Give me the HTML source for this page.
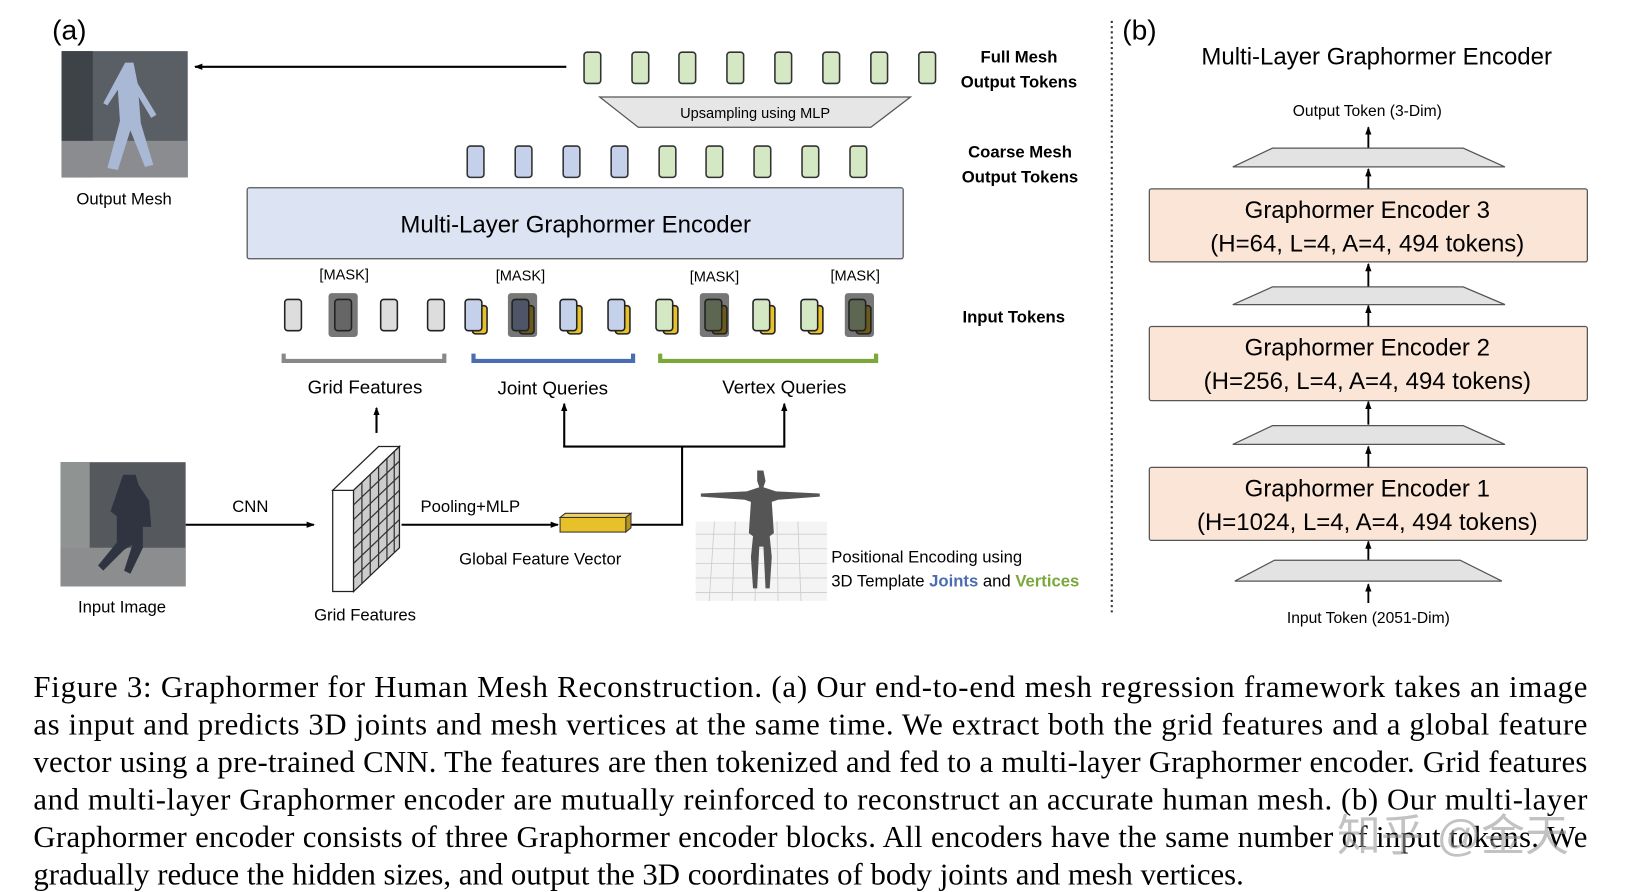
<!DOCTYPE html>
<html><head><meta charset="utf-8"><style>html,body{margin:0;padding:0;background:#fff}svg{display:block}</style></head>
<body>
<svg width="1627" height="892" viewBox="0 0 1560 855" preserveAspectRatio="none" xmlns="http://www.w3.org/2000/svg" font-family="Liberation Sans, sans-serif">
<defs>
<marker id="ah" markerWidth="8" markerHeight="8" refX="7" refY="4" orient="auto" markerUnits="userSpaceOnUse"><path d="M0,1 L8,4 L0,7 z" fill="#000"/></marker>
</defs>
<rect width="1560" height="855" fill="#fff"/>
<text x="50" y="38" font-size="27">(a)</text>
<rect x="59" y="49" width="121" height="121" fill="#5a5f66"/>
<rect x="59" y="49" width="30" height="121" fill="#3e4348"/>
<rect x="59" y="135" width="121" height="35" fill="#8a8c90"/>
<path d="M120,60 l8,0 l4,20 l18,30 l-5,3 l-12,-20 l2,25 l12,40 l-8,2 l-14,-35 l-12,38 l-10,-2 l12,-45 l-2,-30 l-10,15 l-4,-2 z" fill="#a9b8d4"/>
<text x="119" y="196" font-size="16" text-anchor="middle">Output Mesh</text>
<line x1="543" y1="64" x2="187" y2="64" stroke="#000" stroke-width="2" marker-end="url(#ah)"/>
<g stroke="#333" stroke-width="1.5" fill="#d5e8c4">
<rect x="560" y="50" width="16" height="30" rx="3"/><rect x="606" y="50" width="16" height="30" rx="3"/><rect x="651" y="50" width="16" height="30" rx="3"/><rect x="697" y="50" width="16" height="30" rx="3"/><rect x="743" y="50" width="16" height="30" rx="3"/><rect x="789" y="50" width="16" height="30" rx="3"/><rect x="835" y="50" width="16" height="30" rx="3"/><rect x="881" y="50" width="16" height="30" rx="3"/>
</g>
<path d="M575,93 L873,93 L835,122 L612,122 Z" fill="#e6e6e6" stroke="#555" stroke-width="1.2"/>
<text x="724" y="113" font-size="14" text-anchor="middle">Upsampling using MLP</text>
<text x="977" y="60" font-size="16" font-weight="bold" text-anchor="middle">Full Mesh</text>
<text x="977" y="84" font-size="16" font-weight="bold" text-anchor="middle">Output Tokens</text>
<g stroke="#333" stroke-width="1.5">
<rect x="448" y="140" width="16" height="30" rx="3" fill="#c5d0ea"/><rect x="494" y="140" width="16" height="30" rx="3" fill="#c5d0ea"/><rect x="540" y="140" width="16" height="30" rx="3" fill="#c5d0ea"/><rect x="586" y="140" width="16" height="30" rx="3" fill="#c5d0ea"/>
<rect x="632" y="140" width="16" height="30" rx="3" fill="#d5e8c4"/><rect x="677" y="140" width="16" height="30" rx="3" fill="#d5e8c4"/><rect x="723" y="140" width="16" height="30" rx="3" fill="#d5e8c4"/><rect x="769" y="140" width="16" height="30" rx="3" fill="#d5e8c4"/><rect x="815" y="140" width="16" height="30" rx="3" fill="#d5e8c4"/>
</g>
<text x="978" y="151" font-size="16" font-weight="bold" text-anchor="middle">Coarse Mesh</text>
<text x="978" y="175" font-size="16" font-weight="bold" text-anchor="middle">Output Tokens</text>
<rect x="237" y="180" width="629" height="68" fill="#dce3f3" stroke="#555" stroke-width="1.2" rx="2"/>
<text x="552" y="223" font-size="23" text-anchor="middle">Multi-Layer Graphormer Encoder</text>
<g font-size="14" text-anchor="middle"><text x="330" y="268">[MASK]</text><text x="499" y="269">[MASK]</text><text x="685" y="270">[MASK]</text><text x="820" y="269">[MASK]</text></g>
<g stroke="#222" stroke-width="1.5">
<rect x="315" y="281" width="28" height="42" rx="3" fill="#777" stroke="none"/>
<rect x="487" y="281" width="28" height="42" rx="3" fill="#777" stroke="none"/>
<rect x="671" y="281" width="28" height="42" rx="3" fill="#777" stroke="none"/>
<rect x="810" y="281" width="28" height="42" rx="3" fill="#777" stroke="none"/>
<rect x="273" y="287" width="16" height="30" rx="3" fill="#ddd"/>
<rect x="321" y="287" width="16" height="30" rx="3" fill="#666"/>
<rect x="365" y="287" width="16" height="30" rx="3" fill="#ddd"/>
<rect x="410" y="287" width="16" height="30" rx="3" fill="#ddd"/>
<rect x="453" y="293" width="14" height="27" rx="3" fill="#e8c02a"/><rect x="446" y="287" width="16" height="30" rx="3" fill="#c5d0ea"/>
<rect x="498" y="293" width="14" height="27" rx="3" fill="#6b5a1a"/><rect x="491" y="287" width="16" height="30" rx="3" fill="#4d5566"/>
<rect x="544" y="293" width="14" height="27" rx="3" fill="#e8c02a"/><rect x="537" y="287" width="16" height="30" rx="3" fill="#c5d0ea"/>
<rect x="590" y="293" width="14" height="27" rx="3" fill="#e8c02a"/><rect x="583" y="287" width="16" height="30" rx="3" fill="#c5d0ea"/>
<rect x="636" y="293" width="14" height="27" rx="3" fill="#e8c02a"/><rect x="629" y="287" width="16" height="30" rx="3" fill="#d5e8c4"/>
<rect x="683" y="293" width="14" height="27" rx="3" fill="#6b5a1a"/><rect x="676" y="287" width="16" height="30" rx="3" fill="#5c6650"/>
<rect x="729" y="293" width="14" height="27" rx="3" fill="#e8c02a"/><rect x="722" y="287" width="16" height="30" rx="3" fill="#d5e8c4"/>
<rect x="775" y="293" width="14" height="27" rx="3" fill="#e8c02a"/><rect x="768" y="287" width="16" height="30" rx="3" fill="#d5e8c4"/>
<rect x="821" y="293" width="14" height="27" rx="3" fill="#6b5a1a"/><rect x="814" y="287" width="16" height="30" rx="3" fill="#5c6650"/>
</g>
<text x="972" y="309" font-size="16" font-weight="bold" text-anchor="middle">Input Tokens</text>
<g fill="none" stroke-width="4">
<path d="M272,339 L272,346 L426,346 L426,339" stroke="#888"/>
<path d="M454,339 L454,346 L607,346 L607,339" stroke="#4a6cb3"/>
<path d="M633,339 L633,346 L840,346 L840,339" stroke="#7aa83a"/>
</g>
<g font-size="18" text-anchor="middle"><text x="350" y="377">Grid Features</text><text x="530" y="378">Joint Queries</text><text x="752" y="377">Vertex Queries</text></g>
<g stroke="#000" stroke-width="2" fill="none">
<line x1="361" y1="415" x2="361" y2="391" marker-end="url(#ah)"/>
<line x1="541" y1="428" x2="541" y2="387" marker-end="url(#ah)"/>
<line x1="752" y1="428" x2="752" y2="387" marker-end="url(#ah)"/>
<line x1="540" y1="428" x2="753" y2="428"/>
<line x1="654" y1="428" x2="654" y2="503"/>
<line x1="601" y1="503" x2="655" y2="503"/>
<line x1="178" y1="503" x2="301" y2="503" marker-end="url(#ah)"/>
<line x1="385" y1="503" x2="535" y2="503" marker-end="url(#ah)"/>
</g>
<rect x="58" y="443" width="120" height="119" fill="#55595e"/>
<rect x="58" y="443" width="28" height="119" fill="#8f9493"/>
<rect x="58" y="525" width="120" height="37" fill="#8b8d8f"/>
<path d="M118,455 l12,0 l3,10 l10,15 l2,25 l-8,0 l0,20 l-12,25 l-6,-3 l8,-25 l-8,5 l-20,20 l-5,-5 l18,-22 l0,-25 l-6,-5 z" fill="#2f3440"/>
<text x="117" y="587" font-size="16" text-anchor="middle">Input Image</text>
<text x="240" y="491" font-size="16" text-anchor="middle">CNN</text>
<path d="M319,470 L339,470 L339,567 L319,567 Z" fill="#fff" stroke="#222" stroke-width="1.2"/>
<path d="M319,470 L363,428 L383,428 L339,470 Z" fill="#fff" stroke="#222" stroke-width="1.2"/>
<path d="M339,470 L383,428 L383,525 L339,567 Z" fill="#ccc" stroke="#222" stroke-width="1.2"/>
<g stroke="#333" stroke-width="1.2">
<line x1="347" y1="462" x2="347" y2="559"/><line x1="355" y1="455" x2="355" y2="552"/><line x1="363" y1="447" x2="363" y2="544"/><line x1="371" y1="440" x2="371" y2="537"/><line x1="378" y1="433" x2="378" y2="530"/>
<line x1="339" y1="484" x2="383" y2="442"/><line x1="339" y1="498" x2="383" y2="456"/><line x1="339" y1="512" x2="383" y2="470"/><line x1="339" y1="526" x2="383" y2="484"/><line x1="339" y1="540" x2="383" y2="498"/><line x1="339" y1="554" x2="383" y2="512"/>
</g>
<text x="350" y="595" font-size="16" text-anchor="middle">Grid Features</text>
<text x="451" y="491" font-size="16" text-anchor="middle">Pooling+MLP</text>
<path d="M537,496 L542,492 L605,492 L600,496 Z" fill="#f0d060" stroke="#333"/>
<path d="M600,496 L605,492 L605,506 L600,510 Z" fill="#b8941a" stroke="#333"/>
<rect x="537" y="496" width="63" height="14" fill="#e8c02a" stroke="#333"/>
<text x="518" y="541" font-size="16" text-anchor="middle">Global Feature Vector</text>
<path d="M667,500 L793,500 L793,576 L667,576 Z" fill="#f4f4f4"/>
<g stroke="#ccc" stroke-width="0.8">
<line x1="667" y1="512" x2="793" y2="512"/><line x1="667" y1="526" x2="793" y2="526"/><line x1="667" y1="540" x2="793" y2="540"/><line x1="667" y1="554" x2="793" y2="554"/><line x1="667" y1="568" x2="793" y2="568"/>
<line x1="685" y1="500" x2="680" y2="576"/><line x1="705" y1="500" x2="702" y2="576"/><line x1="725" y1="500" x2="724" y2="576"/><line x1="745" y1="500" x2="746" y2="576"/><line x1="765" y1="500" x2="768" y2="576"/>
</g>
<path d="M726,451 l6,0 l2,10 l-2,6 l12,4 l42,2 l0,3 l-40,3 l-6,2 l2,30 l-4,3 l2,20 l-2,30 l-4,0 l-2,-40 l-4,0 l-2,40 l-4,0 l-2,-30 l2,-20 l-4,-3 l2,-30 l-6,-2 l-42,-3 l0,-3 l44,-2 l12,-4 l-2,-6 z" fill="#555"/>
<text x="797" y="539" font-size="16">Positional Encoding using</text>
<text x="797" y="562" font-size="16">3D Template <tspan fill="#4a6cb3" font-weight="bold">Joints</tspan> and <tspan fill="#7aa83a" font-weight="bold">Vertices</tspan></text>
<line x1="1066" y1="20" x2="1066" y2="590" stroke="#333" stroke-width="2" stroke-dasharray="2,3"/>
<text x="1076" y="38" font-size="27">(b)</text>
<text x="1320" y="62" font-size="23" text-anchor="middle">Multi-Layer Graphormer Encoder</text>
<text x="1311" y="111" font-size="15" text-anchor="middle">Output Token (3-Dim)</text>
<g stroke="#000" stroke-width="1.8">
<line x1="1312" y1="142" x2="1312" y2="122" marker-end="url(#ah)"/>
<line x1="1312" y1="181" x2="1312" y2="162" marker-end="url(#ah)"/>
<line x1="1312" y1="275" x2="1312" y2="253" marker-end="url(#ah)"/>
<line x1="1312" y1="313" x2="1312" y2="293" marker-end="url(#ah)"/>
<line x1="1312" y1="407" x2="1312" y2="385" marker-end="url(#ah)"/>
<line x1="1312" y1="448" x2="1312" y2="428" marker-end="url(#ah)"/>
<line x1="1312" y1="537" x2="1312" y2="519" marker-end="url(#ah)"/>
<line x1="1312" y1="578" x2="1312" y2="560" marker-end="url(#ah)"/>
</g>
<g fill="#e3e3e3" stroke="#555" stroke-width="1.2">
<path d="M1220,142 L1403,142 L1443,160 L1182,160 Z"/>
<path d="M1220,275 L1403,275 L1443,292 L1182,292 Z"/>
<path d="M1220,408 L1403,408 L1443,426 L1182,426 Z"/>
<path d="M1222,537 L1400,537 L1440,557 L1184,557 Z"/>
</g>
<g fill="#fbe5d6" stroke="#555" stroke-width="1.2">
<rect x="1102" y="181" width="420" height="70" rx="2"/>
<rect x="1102" y="313" width="420" height="71" rx="2"/>
<rect x="1102" y="448" width="420" height="70" rx="2"/>
</g>
<g font-size="23" text-anchor="middle">
<text x="1311" y="209">Graphormer Encoder 3</text><text x="1311" y="241">(H=64, L=4, A=4, 494 tokens)</text>
<text x="1311" y="341">Graphormer Encoder 2</text><text x="1311" y="373">(H=256, L=4, A=4, 494 tokens)</text>
<text x="1311" y="476">Graphormer Encoder 1</text><text x="1311" y="508">(H=1024, L=4, A=4, 494 tokens)</text>
</g>
<text x="1312" y="597" font-size="15" text-anchor="middle">Input Token (2051-Dim)</text>
<g font-family="Liberation Serif, serif" font-size="29.5" fill="#000">
<text x="32" y="668" textLength="1490" lengthAdjust="spacing">Figure 3: Graphormer for Human Mesh Reconstruction.  (a) Our end-to-end mesh regression framework takes an image</text>
<text x="32" y="704" textLength="1490" lengthAdjust="spacing">as input and predicts 3D joints and mesh vertices at the same time.  We extract both the grid features and a global feature</text>
<text x="32" y="740" textLength="1490" lengthAdjust="spacing">vector using a pre-trained CNN. The features are then tokenized and fed to a multi-layer Graphormer encoder. Grid features</text>
<text x="32" y="776" textLength="1490" lengthAdjust="spacing">and multi-layer Graphormer encoder are mutually reinforced to reconstruct an accurate human mesh.  (b) Our multi-layer</text>
<text x="32" y="812" textLength="1490" lengthAdjust="spacing">Graphormer encoder consists of three Graphormer encoder blocks. All encoders have the same number of input tokens. We</text>
<text x="32" y="848">gradually reduce the hidden sizes, and output the 3D coordinates of body joints and mesh vertices.</text>
</g>
<text x="1282" y="815" font-size="42" fill="#999" fill-opacity="0.6" font-family="Liberation Sans, Noto Sans CJK SC, sans-serif">知乎 @金天</text>
</svg>
</body></html>
